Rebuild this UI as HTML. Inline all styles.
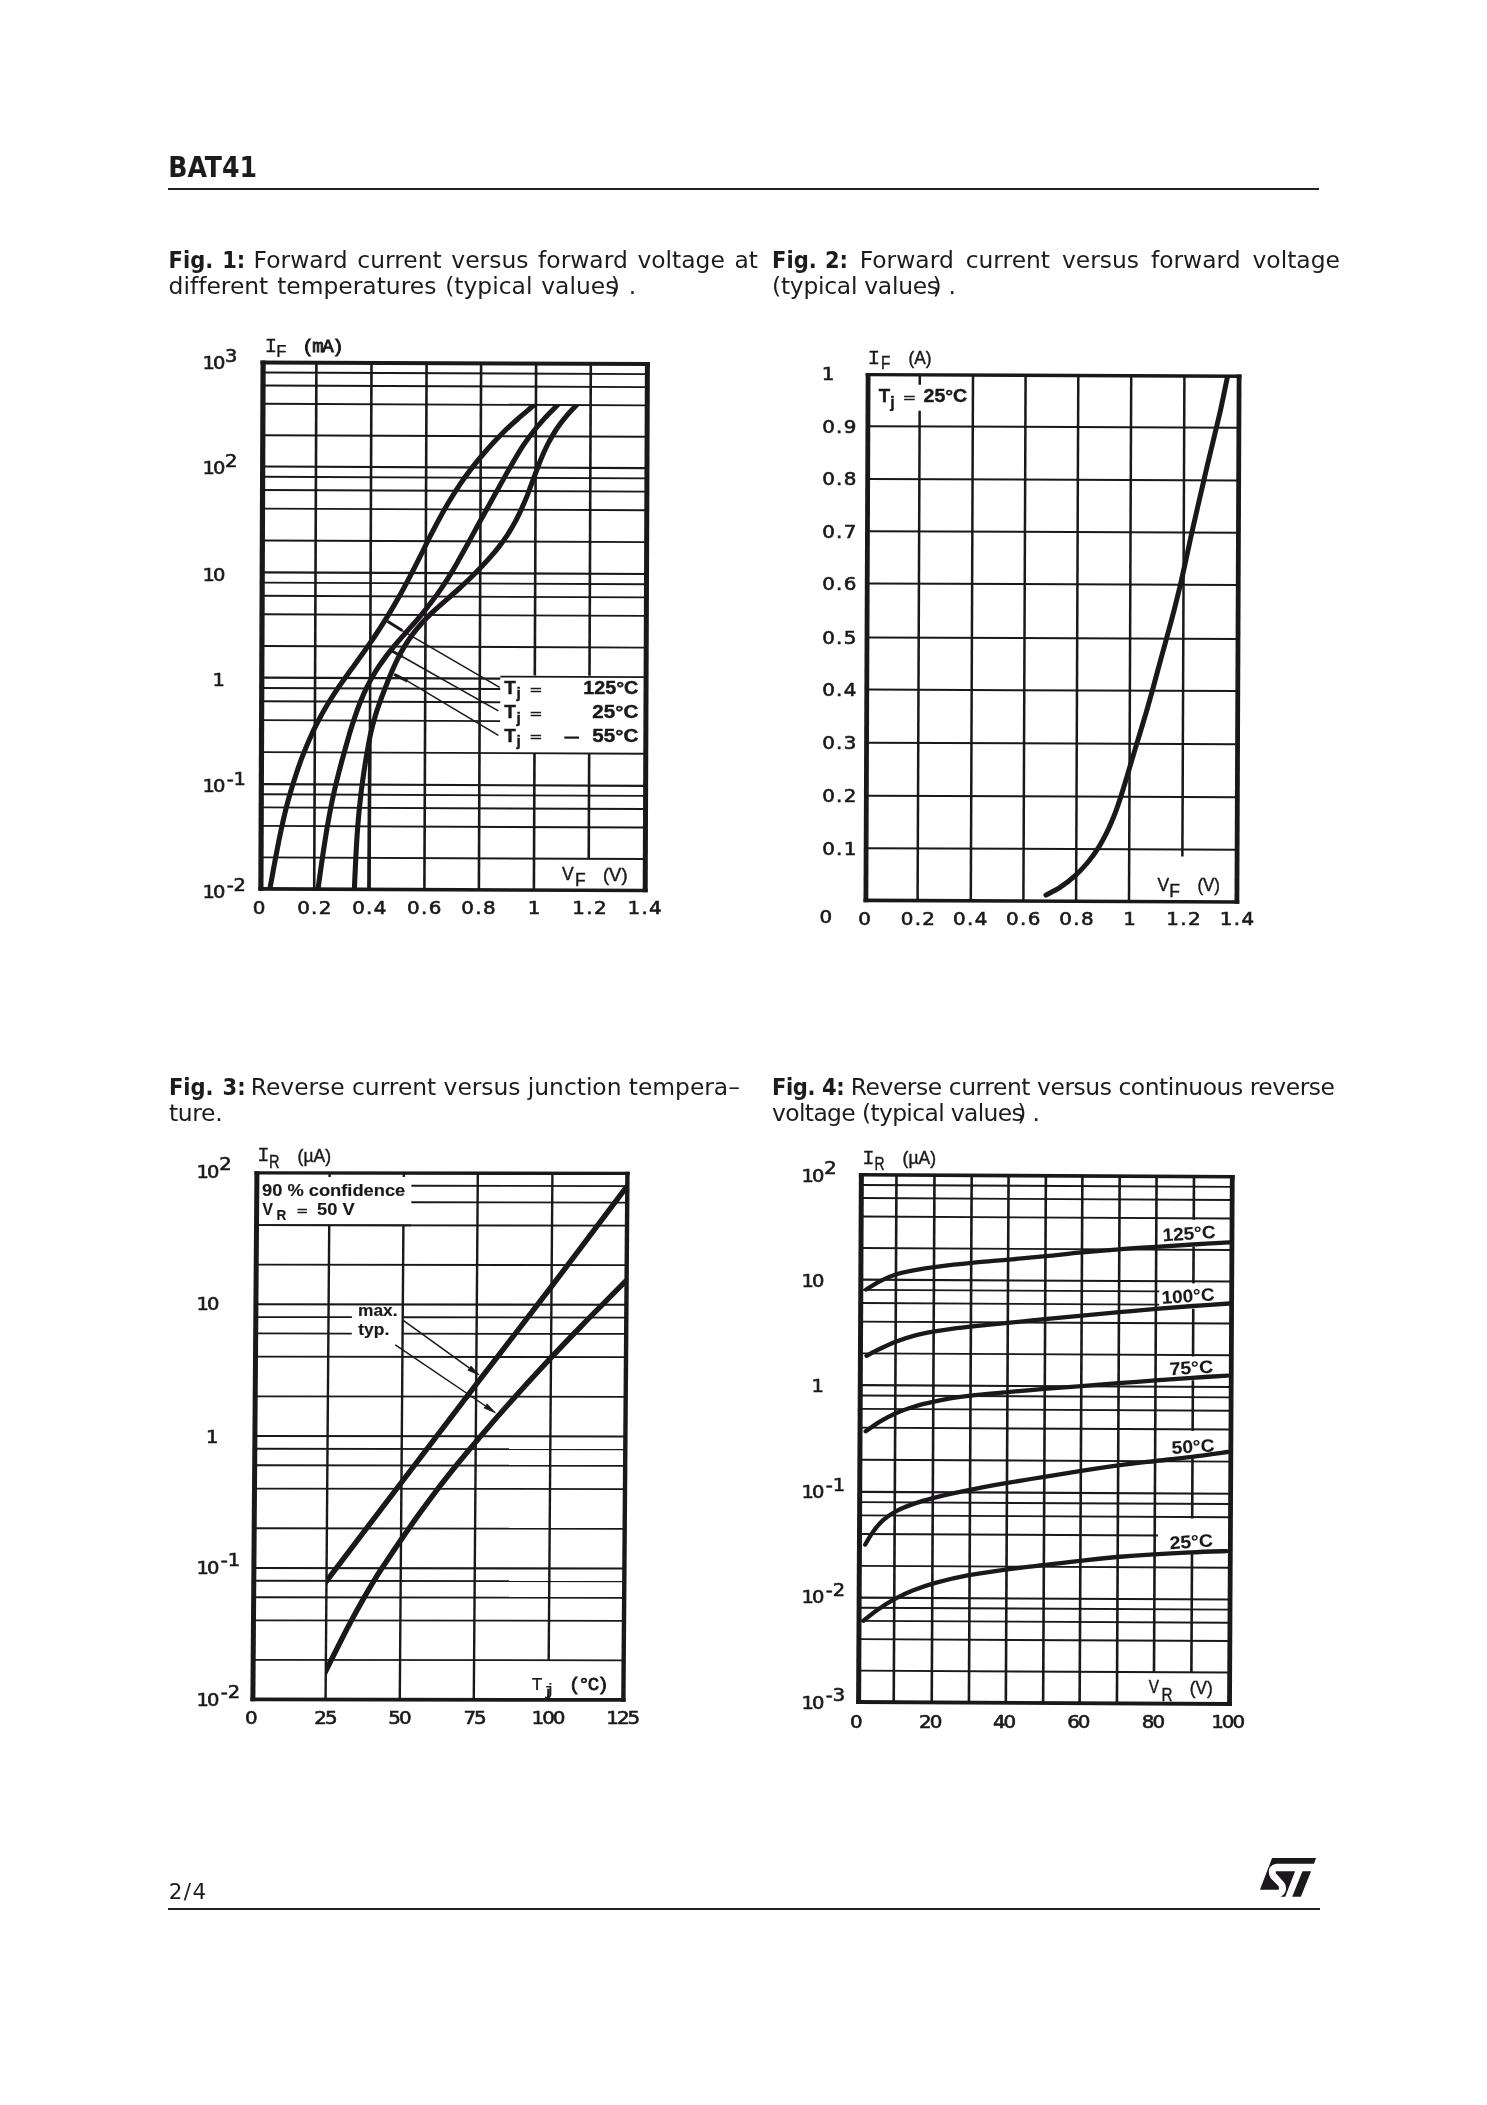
<!DOCTYPE html>
<html lang="en"><head><meta charset="utf-8"><title>BAT41</title>
<style>
html,body{margin:0;padding:0;background:#fff}
#page{will-change:transform;position:relative;width:1487px;height:2105px;overflow:hidden;background:#fff;color:#1a181a}
.t{position:absolute;white-space:nowrap;font-family:"DejaVu Sans","Liberation Sans",sans-serif;font-size:23.4px;line-height:28px;color:#1d1b1e;font-variant-ligatures:none}
.t b{font-weight:bold;font-family:"DejaVu Sans Condensed","DejaVu Sans","Liberation Sans",sans-serif}
.rule{position:absolute;background:#232123;height:2px}
svg{position:absolute;left:0;top:0}
svg text{fill:#1a181a;stroke:none}
</style></head><body>
<div id="page">
<div class="t" style="left:168.2px;top:152.4px;font-family:'DejaVu Sans Condensed','DejaVu Sans','Liberation Sans',sans-serif;font-weight:bold;font-size:28px;line-height:32px;letter-spacing:0px">BAT41</div>
<div class="rule" style="left:168px;top:188px;width:1151px"></div>
<div class="t" style="left:168.6px;top:245.6px;word-spacing:1.67px;letter-spacing:0.00px"><b>Fig. 1:</b></div>
<div class="t" style="left:253.6px;top:245.6px;word-spacing:2.23px;letter-spacing:0.00px">Forward current versus forward voltage at</div>
<div class="t" style="left:168.6px;top:272.1px;word-spacing:1.43px;letter-spacing:0.00px">different temperatures (typical value<span style="letter-spacing:-6.5px">s</span>) .</div>
<div class="t" style="left:772.1px;top:245.6px;word-spacing:0.87px;letter-spacing:0.00px"><b>Fig. 2:</b></div>
<div class="t" style="left:859.7px;top:245.6px;word-spacing:4.47px;letter-spacing:0.00px">Forward current versus forward voltage</div>
<div class="t" style="left:772.1px;top:272.1px;word-spacing:0.00px;letter-spacing:-0.27px">(typical value<span style="letter-spacing:-6.5px">s</span>) .</div>
<div class="t" style="left:168.9px;top:1072.6px;word-spacing:1.67px;letter-spacing:0.00px"><b>Fig. 3:</b></div>
<div class="t" style="left:250.8px;top:1072.6px;word-spacing:0.00px;letter-spacing:-0.03px">Reverse current versus junction tempera&#8211;</div>
<div class="t" style="left:168.9px;top:1099.1px;word-spacing:0.00px;letter-spacing:-0.31px">ture.</div>
<div class="t" style="left:772.1px;top:1072.6px;word-spacing:0.00px;letter-spacing:-0.41px"><b>Fig. 4:</b></div>
<div class="t" style="left:850.8px;top:1072.6px;word-spacing:0.00px;letter-spacing:-0.44px">Reverse current versus continuous reverse</div>
<div class="t" style="left:772.1px;top:1099.1px;word-spacing:0.00px;letter-spacing:-0.63px">voltage (typical value<span style="letter-spacing:-6.5px">s</span>) .</div>
<div class="t" style="left:168.7px;top:1878.2px;font-size:21.5px;letter-spacing:1.5px">2/4</div>
<div class="rule" style="left:168px;top:1907.7px;width:1152px"></div>

<svg width="1487" height="2105" viewBox="0 0 1487 2105" stroke="#1a181a" fill="none">
<g transform="translate(1250,1850) scale(0.053792)" fill="#1b191c" stroke="none"><path d="M410,150 L1228,150 L1190,255 L500,255 C400,262 352,330 350,400 C350,455 368,505 390,530 L520,660 C545,690 548,725 525,740 L185,740 Z"/><path d="M480,395 L838,395 L655,868 L565,868 C620,850 665,790 670,720 C670,670 655,630 635,605 L480,432 Z"/><path d="M975,395 L1135,395 L945,868 L785,868 Z"/></g><g transform="rotate(0.24 454.1 626.5)"><line x1="262.0" y1="467.3" x2="646.3" y2="467.3" stroke-width="2.2" /><line x1="262.0" y1="573.2" x2="646.3" y2="573.2" stroke-width="2.2" /><line x1="262.0" y1="678.5" x2="500.5" y2="678.5" stroke-width="2.2" /><line x1="262.0" y1="785.0" x2="646.3" y2="785.0" stroke-width="2.2" /><line x1="262.0" y1="436.0" x2="646.3" y2="436.0" stroke-width="1.9" /><line x1="262.0" y1="404.6" x2="646.3" y2="404.6" stroke-width="1.9" /><line x1="262.0" y1="386.3" x2="646.3" y2="386.3" stroke-width="1.9" /><line x1="262.0" y1="373.3" x2="646.3" y2="373.3" stroke-width="1.9" /><line x1="262.0" y1="541.3" x2="646.3" y2="541.3" stroke-width="1.9" /><line x1="262.0" y1="509.4" x2="646.3" y2="509.4" stroke-width="1.9" /><line x1="262.0" y1="490.8" x2="646.3" y2="490.8" stroke-width="1.9" /><line x1="262.0" y1="477.6" x2="646.3" y2="477.6" stroke-width="1.9" /><line x1="262.0" y1="646.8" x2="646.3" y2="646.8" stroke-width="1.9" /><line x1="262.0" y1="615.1" x2="646.3" y2="615.1" stroke-width="1.9" /><line x1="262.0" y1="596.6" x2="646.3" y2="596.6" stroke-width="1.9" /><line x1="262.0" y1="583.4" x2="646.3" y2="583.4" stroke-width="1.9" /><line x1="262.0" y1="752.9" x2="646.3" y2="752.9" stroke-width="1.9" /><line x1="262.0" y1="720.9" x2="500.5" y2="720.9" stroke-width="1.9" /><line x1="262.0" y1="702.1" x2="500.5" y2="702.1" stroke-width="1.9" /><line x1="262.0" y1="688.8" x2="500.5" y2="688.8" stroke-width="1.9" /><line x1="262.0" y1="858.2" x2="646.3" y2="858.2" stroke-width="1.9" /><line x1="262.0" y1="826.7" x2="646.3" y2="826.7" stroke-width="1.9" /><line x1="262.0" y1="808.2" x2="646.3" y2="808.2" stroke-width="1.9" /><line x1="262.0" y1="795.1" x2="646.3" y2="795.1" stroke-width="1.9" /><line x1="315.3" y1="363.2" x2="315.3" y2="889.7" stroke-width="2.6" /><line x1="370.4" y1="363.2" x2="370.4" y2="889.7" stroke-width="2.6" /><line x1="425.5" y1="363.2" x2="425.5" y2="889.7" stroke-width="2.6" /><line x1="480.0" y1="363.2" x2="480.0" y2="889.7" stroke-width="2.6" /><line x1="535.0" y1="363.2" x2="535.0" y2="675.2" stroke-width="2.6" /><line x1="535.0" y1="752.9" x2="535.0" y2="889.7" stroke-width="2.6" /><line x1="589.7" y1="363.2" x2="589.7" y2="675.2" stroke-width="2.6" /><line x1="589.7" y1="752.9" x2="589.7" y2="858.2" stroke-width="2.6" /><line x1="262.0" y1="361.2" x2="262.0" y2="891.5" stroke-width="5.2" /><line x1="646.3" y1="361.2" x2="646.3" y2="891.5" stroke-width="5.0" /><line x1="259.4" y1="363.2" x2="648.8" y2="363.2" stroke-width="4.0" /><line x1="259.4" y1="889.7" x2="648.8" y2="889.7" stroke-width="3.6" /><line x1="500.5" y1="676.4" x2="646.3" y2="676.4" stroke-width="1.8" /></g><clipPath id="cl1"><rect x="262" y="404.4" width="385" height="485.6"/></clipPath><g clip-path="url(#cl1)"><path d="M269.8,889.0 C270.2,887.0 271.1,882.4 272.1,876.9 C273.1,871.5 274.4,863.9 275.9,856.3 C277.3,848.8 279.1,839.2 280.8,831.5 C282.4,823.8 284.1,816.5 285.7,809.9 C287.3,803.4 288.9,798.0 290.5,792.2 C292.2,786.4 293.9,780.9 295.8,775.2 C297.7,769.4 299.7,763.5 301.9,757.7 C304.2,751.9 306.5,746.0 309.1,740.2 C311.6,734.4 314.2,728.7 317.2,723.0 C320.1,717.2 323.2,711.5 326.7,705.7 C330.2,699.9 334.1,693.9 338.1,687.9 C342.2,681.9 346.8,675.6 351.1,669.6 C355.4,663.6 359.8,657.6 363.8,652.0 C367.8,646.4 371.5,641.1 375.1,635.8 C378.6,630.5 381.9,625.4 385.1,620.2 C388.4,615.0 391.4,609.9 394.5,604.6 C397.6,599.3 400.6,594.0 403.6,588.5 C406.6,583.0 409.6,577.4 412.5,571.7 C415.4,566.1 418.2,560.3 421.2,554.4 C424.1,548.5 427.0,542.4 430.1,536.3 C433.2,530.3 436.5,523.9 439.8,517.9 C443.1,511.9 446.5,505.8 449.9,500.2 C453.3,494.6 456.6,489.4 460.0,484.3 C463.4,479.2 466.8,474.6 470.4,469.9 C474.0,465.2 477.7,460.6 481.6,456.0 C485.4,451.5 489.4,446.9 493.5,442.5 C497.6,438.1 501.9,433.7 506.1,429.5 C510.4,425.4 515.1,421.3 519.2,417.7 C523.3,414.0 527.4,410.7 530.9,407.7 C534.4,404.7 538.7,401.0 540.3,399.7" fill="none" stroke-width="5.1" stroke-linecap="round" stroke-linejoin="round" stroke-linecap="butt"/><path d="M318.0,889.0 C318.3,887.0 318.9,882.4 319.7,876.9 C320.4,871.5 321.5,863.9 322.6,856.3 C323.8,848.8 325.2,839.2 326.5,831.3 C327.8,823.5 329.2,816.0 330.5,809.1 C331.8,802.3 333.1,796.4 334.5,790.2 C335.9,784.1 337.4,778.2 338.9,772.1 C340.5,766.0 342.2,759.7 343.9,753.6 C345.6,747.4 347.4,741.0 349.1,735.1 C350.9,729.2 352.6,723.6 354.5,718.2 C356.3,712.8 358.0,707.9 360.0,702.8 C362.1,697.6 364.2,692.6 366.8,687.4 C369.4,682.2 372.5,676.6 375.7,671.3 C378.9,666.1 382.6,660.9 386.2,656.1 C389.8,651.3 393.5,646.9 397.3,642.4 C401.1,637.9 405.1,633.6 408.9,629.2 C412.8,624.8 416.7,620.3 420.5,615.8 C424.2,611.4 427.8,606.9 431.2,602.3 C434.7,597.8 438.0,593.3 441.2,588.6 C444.4,583.9 447.4,579.2 450.4,574.3 C453.4,569.4 456.3,564.3 459.3,559.1 C462.2,553.9 465.1,548.5 468.1,543.2 C471.0,537.9 474.0,532.3 476.9,527.1 C479.7,521.9 482.6,516.8 485.2,512.0 C487.9,507.3 490.3,502.9 492.7,498.5 C495.1,494.2 497.4,490.2 499.7,485.9 C502.1,481.7 504.4,477.5 506.8,473.1 C509.3,468.7 511.9,464.1 514.6,459.6 C517.3,455.0 520.1,450.3 523.1,445.7 C526.2,441.1 529.5,436.4 533.0,432.0 C536.4,427.6 540.3,423.1 543.9,419.1 C547.5,415.1 551.3,411.3 554.6,408.0 C557.9,404.6 562.2,400.5 563.7,398.9" fill="none" stroke-width="5.1" stroke-linecap="round" stroke-linejoin="round" stroke-linecap="butt"/><path d="M354.4,889.0 C354.5,887.0 354.7,882.4 354.9,876.9 C355.2,871.5 355.5,863.9 355.9,856.3 C356.3,848.8 356.8,839.2 357.4,831.3 C358.0,823.5 358.6,816.0 359.3,809.1 C360.0,802.3 360.7,796.4 361.4,790.2 C362.2,784.1 363.0,778.2 363.9,772.1 C364.8,766.0 365.8,759.7 366.9,753.6 C367.9,747.4 369.1,741.0 370.3,735.1 C371.6,729.2 373.0,723.5 374.6,718.2 C376.1,712.8 377.8,707.9 379.6,702.9 C381.3,697.8 383.3,693.0 385.2,688.0 C387.1,683.1 389.1,677.9 391.1,673.2 C393.2,668.4 395.2,663.7 397.4,659.3 C399.5,654.9 401.7,650.9 404.2,646.8 C406.7,642.7 409.4,638.7 412.3,634.8 C415.3,630.8 418.4,626.9 421.9,623.0 C425.4,619.1 429.3,615.3 433.4,611.4 C437.5,607.5 442.2,603.5 446.7,599.6 C451.2,595.6 456.0,591.4 460.3,587.5 C464.5,583.6 468.6,579.8 472.2,576.2 C475.8,572.7 478.8,569.6 481.9,566.3 C484.9,563.1 487.7,560.2 490.5,556.9 C493.4,553.6 496.3,550.2 499.1,546.6 C502.0,542.9 504.8,538.9 507.5,534.9 C510.1,530.8 512.7,526.4 515.0,522.1 C517.4,517.8 519.5,513.3 521.5,508.9 C523.5,504.5 525.4,500.0 527.2,495.6 C528.9,491.1 530.6,486.7 532.2,482.2 C533.9,477.8 535.5,473.3 537.2,468.9 C538.9,464.5 540.6,460.0 542.5,455.6 C544.4,451.2 546.4,446.7 548.7,442.4 C551.0,438.0 553.5,433.7 556.2,429.5 C559.0,425.4 562.1,421.3 565.1,417.7 C568.0,414.0 571.2,410.7 574.0,407.7 C576.8,404.7 580.5,401.0 581.9,399.7" fill="none" stroke-width="5.1" stroke-linecap="round" stroke-linejoin="round" stroke-linecap="butt"/></g><line x1="369.9" y1="735.0" x2="368.9" y2="889.0" stroke-width="3.6" /><line x1="387.4" y1="621.2" x2="402.2" y2="630.6" stroke-width="3.0" /><line x1="402.2" y1="630.6" x2="499.6" y2="687.4" stroke-width="1.5" /><line x1="391.5" y1="650.8" x2="403.0" y2="657.0" stroke-width="3.0" /><line x1="403.0" y1="657.0" x2="498.4" y2="710.8" stroke-width="1.5" /><line x1="394.1" y1="674.3" x2="407.6" y2="681.2" stroke-width="3.0" /><line x1="407.6" y1="681.2" x2="498.4" y2="735.4" stroke-width="1.5" /><text x="504.2" y="694.2" font-family="'Liberation Sans', sans-serif" font-size="17.8" font-weight="bold" text-anchor="start" textLength="11.6" lengthAdjust="spacingAndGlyphs" style="stroke:#1a181a;stroke-width:0.4px">T</text><text x="516.6" y="698.4" font-family="'Liberation Sans', sans-serif" font-size="15.5" font-weight="bold" text-anchor="start" style="stroke:#1a181a;stroke-width:0.4px">j</text><text x="530.0" y="693.9" font-family="'Liberation Sans', sans-serif" font-size="12.5" font-weight="normal" text-anchor="start" textLength="11.8" lengthAdjust="spacingAndGlyphs" style="stroke:#1a181a;stroke-width:0.45px">=</text><text x="583.3" y="694.2" font-family="'Liberation Sans', sans-serif" font-size="17.8" font-weight="bold" text-anchor="start" textLength="55" lengthAdjust="spacingAndGlyphs" style="stroke:#1a181a;stroke-width:0.4px">125°C</text><text x="504.2" y="718.4" font-family="'Liberation Sans', sans-serif" font-size="17.8" font-weight="bold" text-anchor="start" textLength="11.6" lengthAdjust="spacingAndGlyphs" style="stroke:#1a181a;stroke-width:0.4px">T</text><text x="516.6" y="722.6" font-family="'Liberation Sans', sans-serif" font-size="15.5" font-weight="bold" text-anchor="start" style="stroke:#1a181a;stroke-width:0.4px">j</text><text x="530.0" y="718.1" font-family="'Liberation Sans', sans-serif" font-size="12.5" font-weight="normal" text-anchor="start" textLength="11.8" lengthAdjust="spacingAndGlyphs" style="stroke:#1a181a;stroke-width:0.45px">=</text><text x="592.3" y="718.4" font-family="'Liberation Sans', sans-serif" font-size="17.8" font-weight="bold" text-anchor="start" textLength="46" lengthAdjust="spacingAndGlyphs" style="stroke:#1a181a;stroke-width:0.4px">25°C</text><text x="504.2" y="741.6" font-family="'Liberation Sans', sans-serif" font-size="17.8" font-weight="bold" text-anchor="start" textLength="11.6" lengthAdjust="spacingAndGlyphs" style="stroke:#1a181a;stroke-width:0.4px">T</text><text x="516.6" y="745.8" font-family="'Liberation Sans', sans-serif" font-size="15.5" font-weight="bold" text-anchor="start" style="stroke:#1a181a;stroke-width:0.4px">j</text><text x="530.0" y="741.3" font-family="'Liberation Sans', sans-serif" font-size="12.5" font-weight="normal" text-anchor="start" textLength="11.8" lengthAdjust="spacingAndGlyphs" style="stroke:#1a181a;stroke-width:0.45px">=</text><text x="592.3" y="741.6" font-family="'Liberation Sans', sans-serif" font-size="17.8" font-weight="bold" text-anchor="start" textLength="46" lengthAdjust="spacingAndGlyphs" style="stroke:#1a181a;stroke-width:0.4px">55°C</text><line x1="564.3" y1="737.6" x2="579.0" y2="737.6" stroke-width="2.2" /><text transform="scale(1.12,1)" x="186.25 195.71" y="369.5" font-family="'DejaVu Sans', 'Liberation Sans', sans-serif" font-size="17.39" font-weight="normal" text-anchor="middle" style="stroke:#1a181a;stroke-width:0.6px">10</text><text transform="scale(1.12,1)" x="206.52" y="362.2" font-family="'DejaVu Sans', 'Liberation Sans', sans-serif" font-size="17.39" font-weight="normal" text-anchor="middle" style="stroke:#1a181a;stroke-width:0.6px">3</text><text transform="scale(1.12,1)" x="186.25 195.71" y="473.9" font-family="'DejaVu Sans', 'Liberation Sans', sans-serif" font-size="17.39" font-weight="normal" text-anchor="middle" style="stroke:#1a181a;stroke-width:0.6px">10</text><text transform="scale(1.12,1)" x="206.52" y="466.6" font-family="'DejaVu Sans', 'Liberation Sans', sans-serif" font-size="17.39" font-weight="normal" text-anchor="middle" style="stroke:#1a181a;stroke-width:0.6px">2</text><text transform="scale(1.12,1)" x="186.25 195.71" y="580.6" font-family="'DejaVu Sans', 'Liberation Sans', sans-serif" font-size="17.39" font-weight="normal" text-anchor="middle" style="stroke:#1a181a;stroke-width:0.6px">10</text><text transform="scale(1.12,1)" x="195.27" y="685.9" font-family="'DejaVu Sans', 'Liberation Sans', sans-serif" font-size="17.39" font-weight="normal" text-anchor="middle" style="stroke:#1a181a;stroke-width:0.6px">1</text><text transform="scale(1.12,1)" x="186.25 195.71" y="791.9" font-family="'DejaVu Sans', 'Liberation Sans', sans-serif" font-size="17.39" font-weight="normal" text-anchor="middle" style="stroke:#1a181a;stroke-width:0.6px">10</text><text transform="scale(1.12,1)" x="205.57 214.09" y="784.6" font-family="'DejaVu Sans', 'Liberation Sans', sans-serif" font-size="17.39" font-weight="normal" text-anchor="middle" style="stroke:#1a181a;stroke-width:0.6px">-1</text><text transform="scale(1.12,1)" x="186.25 195.71" y="897.9" font-family="'DejaVu Sans', 'Liberation Sans', sans-serif" font-size="17.39" font-weight="normal" text-anchor="middle" style="stroke:#1a181a;stroke-width:0.6px">10</text><text transform="scale(1.12,1)" x="205.57 214.09" y="890.6" font-family="'DejaVu Sans', 'Liberation Sans', sans-serif" font-size="17.39" font-weight="normal" text-anchor="middle" style="stroke:#1a181a;stroke-width:0.6px">-2</text><text transform="scale(1.12,1)" x="231.25" y="914.0" font-family="'DejaVu Sans', 'Liberation Sans', sans-serif" font-size="17.75" font-weight="normal" text-anchor="middle" style="stroke:#1a181a;stroke-width:0.6px">0</text><text transform="scale(1.12,1)" x="270.96 280.62 290.29" y="914.0" font-family="'DejaVu Sans', 'Liberation Sans', sans-serif" font-size="17.75" font-weight="normal" text-anchor="middle" style="stroke:#1a181a;stroke-width:0.6px">0.2</text><text transform="scale(1.12,1)" x="320.06 329.73 339.40" y="914.0" font-family="'DejaVu Sans', 'Liberation Sans', sans-serif" font-size="17.75" font-weight="normal" text-anchor="middle" style="stroke:#1a181a;stroke-width:0.6px">0.4</text><text transform="scale(1.12,1)" x="369.08 378.75 388.42" y="914.0" font-family="'DejaVu Sans', 'Liberation Sans', sans-serif" font-size="17.75" font-weight="normal" text-anchor="middle" style="stroke:#1a181a;stroke-width:0.6px">0.6</text><text transform="scale(1.12,1)" x="417.56 427.23 436.90" y="914.0" font-family="'DejaVu Sans', 'Liberation Sans', sans-serif" font-size="17.75" font-weight="normal" text-anchor="middle" style="stroke:#1a181a;stroke-width:0.6px">0.8</text><text transform="scale(1.12,1)" x="476.79" y="914.0" font-family="'DejaVu Sans', 'Liberation Sans', sans-serif" font-size="17.75" font-weight="normal" text-anchor="middle" style="stroke:#1a181a;stroke-width:0.6px">1</text><text transform="scale(1.12,1)" x="516.67 526.34 536.01" y="914.0" font-family="'DejaVu Sans', 'Liberation Sans', sans-serif" font-size="17.75" font-weight="normal" text-anchor="middle" style="stroke:#1a181a;stroke-width:0.6px">1.2</text><text transform="scale(1.12,1)" x="565.87 575.54 585.20" y="914.0" font-family="'DejaVu Sans', 'Liberation Sans', sans-serif" font-size="17.75" font-weight="normal" text-anchor="middle" style="stroke:#1a181a;stroke-width:0.6px">1.4</text><text transform="scale(1.06,1)" x="255.61" y="352.4" font-family="'Liberation Mono', monospace" font-size="19.40" font-weight="normal" text-anchor="middle" style="stroke:#1a181a;stroke-width:0.25px">I</text><text transform="scale(1.06,1)" x="265.52" y="357.2" font-family="'Liberation Mono', monospace" font-size="18.00" font-weight="normal" text-anchor="middle" style="stroke:#1a181a;stroke-width:0.2px">F</text><text transform="scale(1.06,1)" x="290.57 300.00 309.43 318.87" y="352.4" font-family="'Liberation Mono', monospace" font-size="18.00" font-weight="normal" text-anchor="middle" style="stroke:#1a181a;stroke-width:0.9px">(mA)</text><text x="562.0" y="880.0" font-family="'Liberation Sans', sans-serif" font-size="17.5" font-weight="normal" text-anchor="start" style="stroke:#1a181a;stroke-width:0.4px">V</text><text x="575.0" y="886.0" font-family="'Liberation Sans', sans-serif" font-size="17.5" font-weight="normal" text-anchor="start" style="stroke:#1a181a;stroke-width:0.4px">F</text><text x="603.0" y="880.5" font-family="'Liberation Sans', sans-serif" font-size="17.5" font-weight="normal" text-anchor="start" textLength="24.5" lengthAdjust="spacingAndGlyphs" style="stroke:#1a181a;stroke-width:0.4px">(V)</text><g transform="rotate(0.24 1052.5 638.3)"><line x1="867.0" y1="427.0" x2="1238.0" y2="427.0" stroke-width="2.0" /><line x1="867.0" y1="479.7" x2="1238.0" y2="479.7" stroke-width="2.0" /><line x1="867.0" y1="532.0" x2="1238.0" y2="532.0" stroke-width="2.0" /><line x1="867.0" y1="584.2" x2="1238.0" y2="584.2" stroke-width="2.0" /><line x1="867.0" y1="638.2" x2="1238.0" y2="638.2" stroke-width="2.0" /><line x1="867.0" y1="690.3" x2="1238.0" y2="690.3" stroke-width="2.0" /><line x1="867.0" y1="743.5" x2="1238.0" y2="743.5" stroke-width="2.0" /><line x1="867.0" y1="796.5" x2="1238.0" y2="796.5" stroke-width="2.0" /><line x1="867.0" y1="849.0" x2="1238.0" y2="849.0" stroke-width="2.0" /><line x1="918.7" y1="375.4" x2="918.7" y2="385.4" stroke-width="2.5" /><line x1="918.7" y1="411.4" x2="918.7" y2="901.2" stroke-width="2.5" /><line x1="971.9" y1="375.4" x2="971.9" y2="901.2" stroke-width="2.5" /><line x1="1024.5" y1="375.4" x2="1024.5" y2="901.2" stroke-width="2.5" /><line x1="1077.2" y1="375.4" x2="1077.2" y2="901.2" stroke-width="2.5" /><line x1="1130.1" y1="375.4" x2="1130.1" y2="901.2" stroke-width="2.5" /><line x1="1183.3" y1="375.4" x2="1183.3" y2="856.0" stroke-width="2.5" /><line x1="867.0" y1="373.7" x2="867.0" y2="903.0" stroke-width="4.8" /><line x1="1238.0" y1="373.7" x2="1238.0" y2="903.0" stroke-width="4.8" /><line x1="864.6" y1="375.4" x2="1240.4" y2="375.4" stroke-width="3.4" /><line x1="864.6" y1="901.2" x2="1240.4" y2="901.2" stroke-width="3.6" /></g><clipPath id="cl2"><rect x="867" y="375" width="372" height="527"/></clipPath><g clip-path="url(#cl2)"><path d="M1045.9,895.1 C1048.2,893.8 1055.3,890.5 1060.0,887.4 C1064.7,884.3 1069.6,880.7 1074.1,876.7 C1078.7,872.6 1083.2,867.8 1087.3,863.0 C1091.3,858.2 1095.0,853.0 1098.3,847.8 C1101.7,842.5 1104.6,836.9 1107.3,831.4 C1110.0,825.9 1112.3,820.2 1114.5,814.8 C1116.6,809.3 1118.4,804.0 1120.2,798.6 C1121.9,793.2 1123.5,788.0 1125.2,782.5 C1126.8,777.1 1128.5,771.4 1130.2,765.6 C1132.0,759.9 1133.7,753.9 1135.5,747.9 C1137.3,742.0 1139.2,736.0 1141.0,729.8 C1142.9,723.6 1144.8,717.2 1146.7,710.8 C1148.5,704.4 1150.3,697.7 1152.2,691.2 C1154.0,684.6 1155.7,678.0 1157.5,671.5 C1159.3,664.9 1161.1,658.4 1162.9,651.7 C1164.8,644.9 1166.6,638.3 1168.5,631.2 C1170.5,624.0 1172.5,616.6 1174.5,608.7 C1176.5,600.8 1178.6,592.3 1180.6,583.8 C1182.6,575.3 1184.5,566.3 1186.4,557.7 C1188.3,549.0 1190.1,540.4 1192.0,531.8 C1193.9,523.3 1195.9,514.8 1197.8,506.5 C1199.7,498.2 1201.6,489.9 1203.5,481.9 C1205.3,473.9 1207.1,466.2 1209.0,458.3 C1210.9,450.4 1212.8,442.8 1214.7,434.7 C1216.6,426.6 1218.8,417.8 1220.6,409.7 C1222.4,401.6 1224.1,393.3 1225.5,386.3 C1227.0,379.4 1228.6,371.1 1229.2,368.0" fill="none" stroke-width="5.0" stroke-linecap="round" stroke-linejoin="round" stroke-linecap="butt"/></g><text transform="scale(1.12,1)" x="739.29" y="380.4" font-family="'DejaVu Sans', 'Liberation Sans', sans-serif" font-size="17.75" font-weight="normal" text-anchor="middle" style="stroke:#1a181a;stroke-width:0.6px">1</text><text transform="scale(1.12,1)" x="739.71 749.37 759.04" y="432.8" font-family="'DejaVu Sans', 'Liberation Sans', sans-serif" font-size="17.75" font-weight="normal" text-anchor="middle" style="stroke:#1a181a;stroke-width:0.6px">0.9</text><text transform="scale(1.12,1)" x="739.71 749.37 759.04" y="485.5" font-family="'DejaVu Sans', 'Liberation Sans', sans-serif" font-size="17.75" font-weight="normal" text-anchor="middle" style="stroke:#1a181a;stroke-width:0.6px">0.8</text><text transform="scale(1.12,1)" x="739.71 749.37 759.04" y="537.8" font-family="'DejaVu Sans', 'Liberation Sans', sans-serif" font-size="17.75" font-weight="normal" text-anchor="middle" style="stroke:#1a181a;stroke-width:0.6px">0.7</text><text transform="scale(1.12,1)" x="739.71 749.37 759.04" y="590.0" font-family="'DejaVu Sans', 'Liberation Sans', sans-serif" font-size="17.75" font-weight="normal" text-anchor="middle" style="stroke:#1a181a;stroke-width:0.6px">0.6</text><text transform="scale(1.12,1)" x="739.71 749.37 759.04" y="644.0" font-family="'DejaVu Sans', 'Liberation Sans', sans-serif" font-size="17.75" font-weight="normal" text-anchor="middle" style="stroke:#1a181a;stroke-width:0.6px">0.5</text><text transform="scale(1.12,1)" x="739.71 749.37 759.04" y="696.1" font-family="'DejaVu Sans', 'Liberation Sans', sans-serif" font-size="17.75" font-weight="normal" text-anchor="middle" style="stroke:#1a181a;stroke-width:0.6px">0.4</text><text transform="scale(1.12,1)" x="739.71 749.37 759.04" y="749.3" font-family="'DejaVu Sans', 'Liberation Sans', sans-serif" font-size="17.75" font-weight="normal" text-anchor="middle" style="stroke:#1a181a;stroke-width:0.6px">0.3</text><text transform="scale(1.12,1)" x="739.71 749.37 759.04" y="802.3" font-family="'DejaVu Sans', 'Liberation Sans', sans-serif" font-size="17.75" font-weight="normal" text-anchor="middle" style="stroke:#1a181a;stroke-width:0.6px">0.2</text><text transform="scale(1.12,1)" x="739.71 749.37 759.04" y="854.8" font-family="'DejaVu Sans', 'Liberation Sans', sans-serif" font-size="17.75" font-weight="normal" text-anchor="middle" style="stroke:#1a181a;stroke-width:0.6px">0.1</text><text transform="scale(1.12,1)" x="737.32" y="923.5" font-family="'DejaVu Sans', 'Liberation Sans', sans-serif" font-size="17.75" font-weight="normal" text-anchor="middle" style="stroke:#1a181a;stroke-width:0.6px">0</text><text transform="scale(1.12,1)" x="771.87" y="925.0" font-family="'DejaVu Sans', 'Liberation Sans', sans-serif" font-size="17.75" font-weight="normal" text-anchor="middle" style="stroke:#1a181a;stroke-width:0.6px">0</text><text transform="scale(1.12,1)" x="809.80 819.46 829.13" y="925.0" font-family="'DejaVu Sans', 'Liberation Sans', sans-serif" font-size="17.75" font-weight="normal" text-anchor="middle" style="stroke:#1a181a;stroke-width:0.6px">0.2</text><text transform="scale(1.12,1)" x="856.58 866.25 875.92" y="925.0" font-family="'DejaVu Sans', 'Liberation Sans', sans-serif" font-size="17.75" font-weight="normal" text-anchor="middle" style="stroke:#1a181a;stroke-width:0.6px">0.4</text><text transform="scale(1.12,1)" x="903.90 913.57 923.24" y="925.0" font-family="'DejaVu Sans', 'Liberation Sans', sans-serif" font-size="17.75" font-weight="normal" text-anchor="middle" style="stroke:#1a181a;stroke-width:0.6px">0.6</text><text transform="scale(1.12,1)" x="951.49 961.16 970.83" y="925.0" font-family="'DejaVu Sans', 'Liberation Sans', sans-serif" font-size="17.75" font-weight="normal" text-anchor="middle" style="stroke:#1a181a;stroke-width:0.6px">0.8</text><text transform="scale(1.12,1)" x="1008.66" y="925.0" font-family="'DejaVu Sans', 'Liberation Sans', sans-serif" font-size="17.75" font-weight="normal" text-anchor="middle" style="stroke:#1a181a;stroke-width:0.6px">1</text><text transform="scale(1.12,1)" x="1046.94 1056.61 1066.28" y="925.0" font-family="'DejaVu Sans', 'Liberation Sans', sans-serif" font-size="17.75" font-weight="normal" text-anchor="middle" style="stroke:#1a181a;stroke-width:0.6px">1.2</text><text transform="scale(1.12,1)" x="1094.80 1104.46 1114.13" y="925.0" font-family="'DejaVu Sans', 'Liberation Sans', sans-serif" font-size="17.75" font-weight="normal" text-anchor="middle" style="stroke:#1a181a;stroke-width:0.6px">1.4</text><text transform="scale(1.06,1)" x="824.48" y="363.7" font-family="'Liberation Mono', monospace" font-size="19.40" font-weight="normal" text-anchor="middle" style="stroke:#1a181a;stroke-width:0.25px">I</text><text x="881.0" y="368.8" font-family="'Liberation Sans', sans-serif" font-size="17.5" font-weight="normal" text-anchor="start" textLength="9.4" lengthAdjust="spacingAndGlyphs" style="stroke:#1a181a;stroke-width:0.4px">F</text><text x="908.5" y="364.0" font-family="'Liberation Sans', sans-serif" font-size="17.5" font-weight="normal" text-anchor="start" textLength="23" lengthAdjust="spacingAndGlyphs" style="stroke:#1a181a;stroke-width:0.4px">(A)</text><text x="878.8" y="402.1" font-family="'Liberation Sans', sans-serif" font-size="17.8" font-weight="bold" text-anchor="start" textLength="11.4" lengthAdjust="spacingAndGlyphs" style="stroke:#1a181a;stroke-width:0.4px">T</text><text x="890.3" y="407.6" font-family="'Liberation Sans', sans-serif" font-size="16" font-weight="bold" text-anchor="start" style="stroke:#1a181a;stroke-width:0.4px">j</text><text x="903.6" y="401.6" font-family="'Liberation Sans', sans-serif" font-size="12.5" font-weight="normal" text-anchor="start" textLength="11.8" lengthAdjust="spacingAndGlyphs" style="stroke:#1a181a;stroke-width:0.45px">=</text><text x="923.5" y="402.1" font-family="'Liberation Sans', sans-serif" font-size="17.6" font-weight="bold" text-anchor="start" textLength="43.7" lengthAdjust="spacingAndGlyphs" style="stroke:#1a181a;stroke-width:0.4px">25°C</text><text x="1157.4" y="890.7" font-family="'Liberation Sans', sans-serif" font-size="17.5" font-weight="normal" text-anchor="start" style="stroke:#1a181a;stroke-width:0.4px">V</text><text x="1169.2" y="896.9" font-family="'Liberation Sans', sans-serif" font-size="17.5" font-weight="normal" text-anchor="start" style="stroke:#1a181a;stroke-width:0.4px">F</text><text x="1197.4" y="891.2" font-family="'Liberation Sans', sans-serif" font-size="17.5" font-weight="normal" text-anchor="start" textLength="22.6" lengthAdjust="spacingAndGlyphs" style="stroke:#1a181a;stroke-width:0.4px">(V)</text><g transform="translate(440.2 1436.4) skewX(-0.36) rotate(0.08) translate(-440.2 -1436.4)"><line x1="254.9" y1="1304.5" x2="625.4" y2="1304.5" stroke-width="2.1" /><line x1="254.9" y1="1436.2" x2="625.4" y2="1436.2" stroke-width="2.1" /><line x1="254.9" y1="1568.3" x2="625.4" y2="1568.3" stroke-width="2.1" /><line x1="254.9" y1="1264.9" x2="625.4" y2="1264.9" stroke-width="1.8" /><line x1="254.9" y1="1225.4" x2="625.4" y2="1225.4" stroke-width="1.8" /><line x1="409.5" y1="1202.3" x2="625.4" y2="1202.3" stroke-width="1.8" /><line x1="409.5" y1="1185.8" x2="625.4" y2="1185.8" stroke-width="1.8" /><line x1="254.9" y1="1396.6" x2="625.4" y2="1396.6" stroke-width="1.8" /><line x1="254.9" y1="1356.9" x2="625.4" y2="1356.9" stroke-width="1.8" /><line x1="254.9" y1="1333.7" x2="351.0" y2="1333.7" stroke-width="1.8" /><line x1="402.5" y1="1333.7" x2="625.4" y2="1333.7" stroke-width="1.8" /><line x1="254.9" y1="1317.3" x2="351.0" y2="1317.3" stroke-width="1.8" /><line x1="402.5" y1="1317.3" x2="625.4" y2="1317.3" stroke-width="1.8" /><line x1="254.9" y1="1528.5" x2="625.4" y2="1528.5" stroke-width="1.8" /><line x1="254.9" y1="1488.8" x2="625.4" y2="1488.8" stroke-width="1.8" /><line x1="254.9" y1="1465.5" x2="625.4" y2="1465.5" stroke-width="1.8" /><line x1="254.9" y1="1449.0" x2="625.4" y2="1449.0" stroke-width="1.8" /><line x1="254.9" y1="1660.1" x2="625.4" y2="1660.1" stroke-width="1.8" /><line x1="254.9" y1="1620.6" x2="625.4" y2="1620.6" stroke-width="1.8" /><line x1="254.9" y1="1597.5" x2="625.4" y2="1597.5" stroke-width="1.8" /><line x1="254.9" y1="1581.0" x2="625.4" y2="1581.0" stroke-width="1.8" /><line x1="327.6" y1="1173.1" x2="327.6" y2="1177.1" stroke-width="2.4" /><line x1="327.6" y1="1225.4" x2="327.6" y2="1699.7" stroke-width="2.4" /><line x1="401.8" y1="1173.1" x2="401.8" y2="1177.1" stroke-width="2.4" /><line x1="401.8" y1="1225.4" x2="401.8" y2="1699.7" stroke-width="2.4" /><line x1="475.8" y1="1173.1" x2="475.8" y2="1699.7" stroke-width="2.4" /><line x1="550.4" y1="1173.1" x2="550.4" y2="1660.1" stroke-width="2.4" /><line x1="550.4" y1="1688.7" x2="550.4" y2="1699.7" stroke-width="2.4" /><line x1="254.9" y1="1171.4" x2="254.9" y2="1701.6" stroke-width="5.0" /><line x1="625.4" y1="1171.4" x2="625.4" y2="1701.6" stroke-width="4.4" /><line x1="252.4" y1="1173.1" x2="627.6" y2="1173.1" stroke-width="3.4" /><line x1="252.4" y1="1699.7" x2="627.6" y2="1699.7" stroke-width="3.8" /><line x1="254.9" y1="1225.4" x2="409.5" y2="1225.4" stroke-width="1.9" /></g><clipPath id="cl3"><polygon points="328.2,1172 629,1172 627,1701 325.4,1701"/></clipPath><g clip-path="url(#cl3)"><path d="M321.6,1587.4 C322.6,1586.1 314.6,1596.7 327.6,1579.6 C340.6,1562.5 374.9,1517.3 399.6,1484.8 C424.3,1452.3 451.1,1417.2 476.0,1384.7 C500.9,1352.2 524.2,1322.4 549.2,1289.5 C574.2,1256.6 613.4,1204.3 626.2,1187.3" fill="none" stroke-width="5.4" stroke-linecap="round" stroke-linejoin="round" stroke-linecap="butt"/><path d="M320.4,1681.7 C321.5,1679.5 324.7,1673.2 327.0,1668.6 C329.2,1664.1 331.5,1659.6 334.0,1654.5 C336.6,1649.4 339.3,1643.9 342.3,1638.0 C345.3,1632.1 348.8,1625.4 352.2,1619.0 C355.7,1612.5 359.6,1605.5 363.1,1599.3 C366.6,1593.1 370.0,1587.2 373.3,1581.8 C376.5,1576.5 379.4,1572.1 382.5,1567.3 C385.6,1562.5 388.4,1558.4 391.9,1553.2 C395.4,1548.1 399.0,1542.7 403.4,1536.4 C407.8,1530.1 412.9,1522.7 418.3,1515.2 C423.7,1507.7 429.6,1499.6 435.9,1491.3 C442.2,1483.0 448.6,1474.9 456.2,1465.5 C463.9,1456.1 472.2,1446.0 481.9,1434.7 C491.6,1423.4 503.1,1410.2 514.4,1397.6 C525.6,1385.0 538.5,1371.0 549.6,1359.1 C560.7,1347.3 571.6,1336.0 580.9,1326.5 C590.1,1316.9 597.8,1309.3 605.2,1301.8 C612.6,1294.3 622.0,1284.7 625.4,1281.3" fill="none" stroke-width="5.4" stroke-linecap="round" stroke-linejoin="round" stroke-linecap="butt"/></g><line x1="402.9" y1="1320.1" x2="469.5" y2="1368.2" stroke-width="1.5" /><polygon points="479.2,1375.0 468.0,1370.3 471.0,1366.1" fill="#1a181a" stroke="#1a181a" stroke-width="0.8"/><line x1="395.3" y1="1344.9" x2="485.6" y2="1406.0" stroke-width="1.5" /><polygon points="495.4,1412.7 484.1,1408.1 487.1,1403.9" fill="#1a181a" stroke="#1a181a" stroke-width="0.8"/><text x="262.0" y="1195.6" font-family="'Liberation Sans', sans-serif" font-size="17.4" font-weight="bold" text-anchor="start" textLength="143.3" lengthAdjust="spacingAndGlyphs" style="stroke:#1a181a;stroke-width:0.15px">90 % confidence</text><text x="262.4" y="1215.2" font-family="'Liberation Sans', sans-serif" font-size="17.4" font-weight="bold" text-anchor="start" textLength="10.5" lengthAdjust="spacingAndGlyphs" style="stroke:#1a181a;stroke-width:0.15px">V</text><text x="276.6" y="1219.8" font-family="'Liberation Sans', sans-serif" font-size="15.5" font-weight="bold" text-anchor="start" textLength="9.8" lengthAdjust="spacingAndGlyphs" style="stroke:#1a181a;stroke-width:0.15px">R</text><text x="296.9" y="1214.8" font-family="'Liberation Sans', sans-serif" font-size="12.5" font-weight="normal" text-anchor="start" textLength="10.5" lengthAdjust="spacingAndGlyphs" style="stroke:#1a181a;stroke-width:0.45px">=</text><text x="317.0" y="1215.2" font-family="'Liberation Sans', sans-serif" font-size="17.4" font-weight="bold" text-anchor="start" textLength="37.6" lengthAdjust="spacingAndGlyphs" style="stroke:#1a181a;stroke-width:0.15px">50 V</text><text x="358.0" y="1316.3" font-family="'Liberation Sans', sans-serif" font-size="16.5" font-weight="bold" text-anchor="start" textLength="39.5" lengthAdjust="spacingAndGlyphs" style="stroke:#1a181a;stroke-width:0.15px">max.</text><text x="358.3" y="1335.2" font-family="'Liberation Sans', sans-serif" font-size="16.5" font-weight="bold" text-anchor="start" textLength="31" lengthAdjust="spacingAndGlyphs" style="stroke:#1a181a;stroke-width:0.15px">typ.</text><text transform="scale(1.12,1)" x="180.98 190.45" y="1177.7" font-family="'DejaVu Sans', 'Liberation Sans', sans-serif" font-size="17.39" font-weight="normal" text-anchor="middle" style="stroke:#1a181a;stroke-width:0.6px">10</text><text transform="scale(1.12,1)" x="201.25" y="1170.4" font-family="'DejaVu Sans', 'Liberation Sans', sans-serif" font-size="17.39" font-weight="normal" text-anchor="middle" style="stroke:#1a181a;stroke-width:0.6px">2</text><text transform="scale(1.12,1)" x="180.98 190.45" y="1309.7" font-family="'DejaVu Sans', 'Liberation Sans', sans-serif" font-size="17.39" font-weight="normal" text-anchor="middle" style="stroke:#1a181a;stroke-width:0.6px">10</text><text transform="scale(1.12,1)" x="189.46" y="1443.0" font-family="'DejaVu Sans', 'Liberation Sans', sans-serif" font-size="17.39" font-weight="normal" text-anchor="middle" style="stroke:#1a181a;stroke-width:0.6px">1</text><text transform="scale(1.12,1)" x="180.98 190.45" y="1573.6" font-family="'DejaVu Sans', 'Liberation Sans', sans-serif" font-size="17.39" font-weight="normal" text-anchor="middle" style="stroke:#1a181a;stroke-width:0.6px">10</text><text transform="scale(1.12,1)" x="200.30 208.82" y="1566.3" font-family="'DejaVu Sans', 'Liberation Sans', sans-serif" font-size="17.39" font-weight="normal" text-anchor="middle" style="stroke:#1a181a;stroke-width:0.6px">-1</text><text transform="scale(1.12,1)" x="180.98 190.45" y="1705.7" font-family="'DejaVu Sans', 'Liberation Sans', sans-serif" font-size="17.39" font-weight="normal" text-anchor="middle" style="stroke:#1a181a;stroke-width:0.6px">10</text><text transform="scale(1.12,1)" x="200.30 208.82" y="1698.4" font-family="'DejaVu Sans', 'Liberation Sans', sans-serif" font-size="17.39" font-weight="normal" text-anchor="middle" style="stroke:#1a181a;stroke-width:0.6px">-2</text><text transform="scale(1.12,1)" x="224.46" y="1724.2" font-family="'DejaVu Sans', 'Liberation Sans', sans-serif" font-size="17.75" font-weight="normal" text-anchor="middle" style="stroke:#1a181a;stroke-width:0.6px">0</text><text transform="scale(1.12,1)" x="286.29 295.85" y="1724.2" font-family="'DejaVu Sans', 'Liberation Sans', sans-serif" font-size="17.75" font-weight="normal" text-anchor="middle" style="stroke:#1a181a;stroke-width:0.6px">25</text><text transform="scale(1.12,1)" x="352.28 361.83" y="1724.2" font-family="'DejaVu Sans', 'Liberation Sans', sans-serif" font-size="17.75" font-weight="normal" text-anchor="middle" style="stroke:#1a181a;stroke-width:0.6px">50</text><text transform="scale(1.12,1)" x="419.42 428.97" y="1724.2" font-family="'DejaVu Sans', 'Liberation Sans', sans-serif" font-size="17.75" font-weight="normal" text-anchor="middle" style="stroke:#1a181a;stroke-width:0.6px">75</text><text transform="scale(1.12,1)" x="480.18 489.73 499.29" y="1724.2" font-family="'DejaVu Sans', 'Liberation Sans', sans-serif" font-size="17.75" font-weight="normal" text-anchor="middle" style="stroke:#1a181a;stroke-width:0.6px">100</text><text transform="scale(1.12,1)" x="546.88 556.43 565.98" y="1724.2" font-family="'DejaVu Sans', 'Liberation Sans', sans-serif" font-size="17.75" font-weight="normal" text-anchor="middle" style="stroke:#1a181a;stroke-width:0.6px">125</text><text transform="scale(1.06,1)" x="248.54" y="1161.3" font-family="'Liberation Mono', monospace" font-size="19.40" font-weight="normal" text-anchor="middle" style="stroke:#1a181a;stroke-width:0.25px">I</text><text x="268.9" y="1167.6" font-family="'Liberation Sans', sans-serif" font-size="17.5" font-weight="normal" text-anchor="start" textLength="10.5" lengthAdjust="spacingAndGlyphs" style="stroke:#1a181a;stroke-width:0.4px">R</text><text x="297.6" y="1161.5" font-family="'Liberation Sans', sans-serif" font-size="17.5" font-weight="normal" text-anchor="start" textLength="33.4" lengthAdjust="spacingAndGlyphs" style="stroke:#1a181a;stroke-width:0.4px">(µA)</text><text transform="scale(1.06,1)" x="506.56" y="1689.8" font-family="'Liberation Mono', monospace" font-size="17.50" font-weight="normal" text-anchor="middle" style="stroke:#1a181a;stroke-width:0.2px">T</text><text transform="scale(1.06,1)" x="518.35" y="1695.0" font-family="'Liberation Mono', monospace" font-size="16.00" font-weight="normal" text-anchor="middle" style="stroke:#1a181a;stroke-width:0.2px">j</text><text transform="scale(1.06,1)" x="542.17 551.04 559.91 568.77" y="1690.5" font-family="'Liberation Mono', monospace" font-size="18.00" font-weight="normal" text-anchor="middle" style="stroke:#1a181a;stroke-width:0.8px">(°C)</text><g transform="rotate(0.3 1045.5 1439.4)"><line x1="860.0" y1="1280.6" x2="1230.9" y2="1280.6" stroke-width="2.1" /><line x1="860.0" y1="1386.1" x2="1230.9" y2="1386.1" stroke-width="2.1" /><line x1="860.0" y1="1492.8" x2="1230.9" y2="1492.8" stroke-width="2.1" /><line x1="860.0" y1="1598.6" x2="1230.9" y2="1598.6" stroke-width="2.1" /><line x1="860.0" y1="1249.0" x2="1230.9" y2="1249.0" stroke-width="1.9" /><line x1="860.0" y1="1217.5" x2="1230.9" y2="1217.5" stroke-width="1.9" /><line x1="860.0" y1="1199.0" x2="1230.9" y2="1199.0" stroke-width="1.9" /><line x1="860.0" y1="1185.9" x2="1230.9" y2="1185.9" stroke-width="1.9" /><line x1="860.0" y1="1354.3" x2="1230.9" y2="1354.3" stroke-width="1.9" /><line x1="860.0" y1="1322.6" x2="1230.9" y2="1322.6" stroke-width="1.9" /><line x1="860.0" y1="1304.0" x2="1158.5" y2="1304.0" stroke-width="1.9" /><line x1="860.0" y1="1290.8" x2="1158.5" y2="1290.8" stroke-width="1.9" /><line x1="860.0" y1="1460.7" x2="1230.9" y2="1460.7" stroke-width="1.9" /><line x1="860.0" y1="1428.6" x2="1230.9" y2="1428.6" stroke-width="1.9" /><line x1="860.0" y1="1409.8" x2="1230.9" y2="1409.8" stroke-width="1.9" /><line x1="860.0" y1="1396.4" x2="1230.9" y2="1396.4" stroke-width="1.9" /><line x1="860.0" y1="1566.8" x2="1230.9" y2="1566.8" stroke-width="1.9" /><line x1="860.0" y1="1534.9" x2="1158.5" y2="1534.9" stroke-width="1.9" /><line x1="860.0" y1="1516.3" x2="1230.9" y2="1516.3" stroke-width="1.9" /><line x1="860.0" y1="1503.1" x2="1230.9" y2="1503.1" stroke-width="1.9" /><line x1="860.0" y1="1671.6" x2="1230.9" y2="1671.6" stroke-width="1.9" /><line x1="860.0" y1="1640.1" x2="1230.9" y2="1640.1" stroke-width="1.9" /><line x1="860.0" y1="1621.8" x2="1230.9" y2="1621.8" stroke-width="1.9" /><line x1="860.0" y1="1608.7" x2="1230.9" y2="1608.7" stroke-width="1.9" /><line x1="895.1" y1="1175.8" x2="895.1" y2="1703.0" stroke-width="2.6" /><line x1="933.1" y1="1175.8" x2="933.1" y2="1703.0" stroke-width="2.6" /><line x1="970.3" y1="1175.8" x2="970.3" y2="1703.0" stroke-width="2.6" /><line x1="1007.2" y1="1175.8" x2="1007.2" y2="1703.0" stroke-width="2.6" /><line x1="1044.5" y1="1175.8" x2="1044.5" y2="1703.0" stroke-width="2.6" /><line x1="1081.0" y1="1175.8" x2="1081.0" y2="1703.0" stroke-width="2.6" /><line x1="1118.3" y1="1175.8" x2="1118.3" y2="1703.0" stroke-width="2.6" /><line x1="1155.2" y1="1175.8" x2="1155.2" y2="1671.6" stroke-width="2.6" /><line x1="1192.6" y1="1175.8" x2="1192.6" y2="1219.0" stroke-width="2.6" /><line x1="1192.6" y1="1246.0" x2="1192.6" y2="1282.6" stroke-width="2.6" /><line x1="1192.6" y1="1308.0" x2="1192.6" y2="1355.8" stroke-width="2.6" /><line x1="1192.6" y1="1379.5" x2="1192.6" y2="1430.1" stroke-width="2.6" /><line x1="1192.6" y1="1458.0" x2="1192.6" y2="1517.8" stroke-width="2.6" /><line x1="1192.6" y1="1553.0" x2="1192.6" y2="1671.6" stroke-width="2.6" /><line x1="860.0" y1="1174.0" x2="860.0" y2="1704.9" stroke-width="5.0" /><line x1="1230.9" y1="1174.0" x2="1230.9" y2="1704.9" stroke-width="4.8" /><line x1="857.5" y1="1175.8" x2="1233.3" y2="1175.8" stroke-width="3.6" /><line x1="857.5" y1="1703.0" x2="1233.3" y2="1703.0" stroke-width="3.8" /></g><path d="M866.1,1289.5 C868.5,1288.0 875.8,1283.3 880.7,1280.8 C885.6,1278.3 890.3,1276.2 895.8,1274.5 C901.2,1272.7 906.4,1271.6 913.5,1270.3 C920.6,1269.0 928.5,1267.8 938.2,1266.6 C947.9,1265.3 959.9,1264.0 971.7,1262.9 C983.4,1261.7 996.5,1260.7 1008.8,1259.6 C1021.2,1258.5 1033.6,1257.3 1045.9,1256.1 C1058.2,1254.9 1070.3,1253.5 1082.5,1252.4 C1094.8,1251.2 1106.9,1250.2 1119.2,1249.3 C1131.4,1248.3 1143.8,1247.6 1156.1,1246.8 C1168.4,1246.0 1180.7,1245.2 1192.9,1244.5 C1205.1,1243.8 1223.2,1242.7 1229.3,1242.3" fill="none" stroke-width="4.3" stroke-linecap="round" stroke-linejoin="round" stroke-linecap="butt"/><path d="M866.5,1355.8 C868.8,1354.6 875.1,1351.2 880.1,1348.8 C885.1,1346.4 890.6,1343.8 896.4,1341.6 C902.1,1339.4 908.4,1337.3 914.5,1335.7 C920.6,1334.0 926.8,1332.8 933.0,1331.7 C939.2,1330.5 944.6,1329.7 951.6,1328.8 C958.6,1327.9 965.7,1327.1 975.0,1326.1 C984.3,1325.1 995.9,1324.1 1007.5,1322.9 C1019.1,1321.8 1032.3,1320.4 1044.7,1319.2 C1057.1,1318.0 1069.7,1316.8 1082.1,1315.6 C1094.5,1314.5 1106.8,1313.3 1119.2,1312.2 C1131.5,1311.1 1143.8,1309.9 1156.1,1308.9 C1168.4,1307.9 1180.7,1307.0 1192.9,1306.0 C1205.1,1305.1 1223.2,1303.9 1229.3,1303.5" fill="none" stroke-width="4.3" stroke-linecap="round" stroke-linejoin="round" stroke-linecap="butt"/><path d="M865.7,1431.3 C868.1,1429.7 874.8,1424.7 879.9,1421.7 C885.0,1418.6 890.6,1415.5 896.4,1413.0 C902.1,1410.5 908.4,1408.4 914.5,1406.5 C920.6,1404.6 926.8,1403.2 933.0,1401.9 C939.2,1400.5 944.6,1399.4 951.6,1398.2 C958.6,1397.1 965.7,1396.2 975.0,1395.2 C984.3,1394.1 995.9,1393.1 1007.5,1392.1 C1019.0,1391.0 1032.1,1389.9 1044.3,1388.9 C1056.6,1387.9 1068.9,1387.0 1081.2,1386.1 C1093.5,1385.1 1105.9,1384.2 1118.3,1383.2 C1130.6,1382.3 1143.1,1381.3 1155.4,1380.4 C1167.7,1379.5 1180.0,1378.6 1192.0,1377.8 C1204.1,1377.0 1221.7,1376.0 1227.6,1375.6" fill="none" stroke-width="4.3" stroke-linecap="round" stroke-linejoin="round" stroke-linecap="butt"/><path d="M865.2,1544.6 C866.5,1542.4 870.1,1535.8 873.1,1531.7 C876.1,1527.6 879.2,1523.6 883.1,1520.1 C887.1,1516.6 891.6,1513.5 896.8,1510.8 C901.9,1508.0 908.2,1505.7 914.2,1503.6 C920.3,1501.5 926.8,1499.7 933.0,1498.1 C939.2,1496.4 944.6,1495.1 951.6,1493.6 C958.6,1492.1 965.7,1490.6 975.0,1488.8 C984.3,1487.0 995.9,1484.9 1007.5,1482.9 C1019.0,1480.9 1032.1,1478.8 1044.3,1476.8 C1056.6,1474.8 1068.9,1472.7 1081.2,1470.8 C1093.5,1468.9 1105.9,1467.0 1118.3,1465.4 C1130.6,1463.7 1143.1,1462.4 1155.4,1461.0 C1167.7,1459.6 1180.0,1458.3 1192.0,1456.8 C1204.1,1455.3 1221.7,1452.8 1227.6,1452.0" fill="none" stroke-width="4.3" stroke-linecap="round" stroke-linejoin="round" stroke-linecap="butt"/><path d="M863.4,1620.7 C865.8,1618.8 872.9,1613.1 878.0,1609.5 C883.2,1605.9 888.7,1602.4 894.5,1599.2 C900.2,1596.0 905.7,1593.2 912.7,1590.5 C919.7,1587.7 926.9,1585.2 936.3,1582.6 C945.6,1580.1 957.2,1577.4 968.8,1575.2 C980.4,1573.0 993.6,1571.2 1006.0,1569.5 C1018.4,1567.9 1030.8,1566.6 1043.1,1565.1 C1055.4,1563.7 1067.6,1562.1 1079.8,1560.8 C1092.1,1559.4 1104.5,1558.1 1116.8,1557.0 C1129.2,1556.0 1141.8,1555.1 1154.2,1554.3 C1166.6,1553.5 1179.0,1552.9 1191.0,1552.4 C1203.1,1551.8 1220.8,1551.3 1226.7,1551.1" fill="none" stroke-width="4.3" stroke-linecap="round" stroke-linejoin="round" stroke-linecap="butt"/><g transform="rotate(-3.6 1163 1241.3)"><text x="1163.0" y="1241.3" font-family="'Liberation Sans', sans-serif" font-size="18" font-weight="bold" text-anchor="start" textLength="53" lengthAdjust="spacingAndGlyphs" style="stroke:#1a181a;stroke-width:0.1px">125°C</text></g><g transform="rotate(-3.6 1162 1303.8)"><text x="1162.0" y="1303.8" font-family="'Liberation Sans', sans-serif" font-size="18" font-weight="bold" text-anchor="start" textLength="53" lengthAdjust="spacingAndGlyphs" style="stroke:#1a181a;stroke-width:0.1px">100°C</text></g><g transform="rotate(-3.6 1170 1375.3)"><text x="1170.0" y="1375.3" font-family="'Liberation Sans', sans-serif" font-size="18" font-weight="bold" text-anchor="start" textLength="43.5" lengthAdjust="spacingAndGlyphs" style="stroke:#1a181a;stroke-width:0.1px">75°C</text></g><g transform="rotate(-3.6 1172 1454)"><text x="1172.0" y="1454.0" font-family="'Liberation Sans', sans-serif" font-size="18" font-weight="bold" text-anchor="start" textLength="43" lengthAdjust="spacingAndGlyphs" style="stroke:#1a181a;stroke-width:0.1px">50°C</text></g><g transform="rotate(-3.6 1170 1549.2)"><text x="1170.0" y="1549.2" font-family="'Liberation Sans', sans-serif" font-size="18" font-weight="bold" text-anchor="start" textLength="43.3" lengthAdjust="spacingAndGlyphs" style="stroke:#1a181a;stroke-width:0.1px">25°C</text></g><text transform="scale(1.12,1)" x="721.16 730.62" y="1181.8" font-family="'DejaVu Sans', 'Liberation Sans', sans-serif" font-size="17.39" font-weight="normal" text-anchor="middle" style="stroke:#1a181a;stroke-width:0.6px">10</text><text transform="scale(1.12,1)" x="741.43" y="1174.5" font-family="'DejaVu Sans', 'Liberation Sans', sans-serif" font-size="17.39" font-weight="normal" text-anchor="middle" style="stroke:#1a181a;stroke-width:0.6px">2</text><text transform="scale(1.12,1)" x="721.16 730.62" y="1286.6" font-family="'DejaVu Sans', 'Liberation Sans', sans-serif" font-size="17.39" font-weight="normal" text-anchor="middle" style="stroke:#1a181a;stroke-width:0.6px">10</text><text transform="scale(1.12,1)" x="730.09" y="1392.5" font-family="'DejaVu Sans', 'Liberation Sans', sans-serif" font-size="17.39" font-weight="normal" text-anchor="middle" style="stroke:#1a181a;stroke-width:0.6px">1</text><text transform="scale(1.12,1)" x="721.16 730.62" y="1498.4" font-family="'DejaVu Sans', 'Liberation Sans', sans-serif" font-size="17.39" font-weight="normal" text-anchor="middle" style="stroke:#1a181a;stroke-width:0.6px">10</text><text transform="scale(1.12,1)" x="740.48 749.00" y="1491.1" font-family="'DejaVu Sans', 'Liberation Sans', sans-serif" font-size="17.39" font-weight="normal" text-anchor="middle" style="stroke:#1a181a;stroke-width:0.6px">-1</text><text transform="scale(1.12,1)" x="721.16 730.62" y="1603.4" font-family="'DejaVu Sans', 'Liberation Sans', sans-serif" font-size="17.39" font-weight="normal" text-anchor="middle" style="stroke:#1a181a;stroke-width:0.6px">10</text><text transform="scale(1.12,1)" x="740.48 749.00" y="1596.1" font-family="'DejaVu Sans', 'Liberation Sans', sans-serif" font-size="17.39" font-weight="normal" text-anchor="middle" style="stroke:#1a181a;stroke-width:0.6px">-2</text><text transform="scale(1.12,1)" x="721.16 730.62" y="1708.6" font-family="'DejaVu Sans', 'Liberation Sans', sans-serif" font-size="17.39" font-weight="normal" text-anchor="middle" style="stroke:#1a181a;stroke-width:0.6px">10</text><text transform="scale(1.12,1)" x="740.48 749.00" y="1701.3" font-family="'DejaVu Sans', 'Liberation Sans', sans-serif" font-size="17.39" font-weight="normal" text-anchor="middle" style="stroke:#1a181a;stroke-width:0.6px">-3</text><text transform="scale(1.12,1)" x="764.64" y="1727.6" font-family="'DejaVu Sans', 'Liberation Sans', sans-serif" font-size="17.75" font-weight="normal" text-anchor="middle" style="stroke:#1a181a;stroke-width:0.6px">0</text><text transform="scale(1.12,1)" x="826.12 835.67" y="1727.6" font-family="'DejaVu Sans', 'Liberation Sans', sans-serif" font-size="17.75" font-weight="normal" text-anchor="middle" style="stroke:#1a181a;stroke-width:0.6px">20</text><text transform="scale(1.12,1)" x="892.19 901.74" y="1727.6" font-family="'DejaVu Sans', 'Liberation Sans', sans-serif" font-size="17.75" font-weight="normal" text-anchor="middle" style="stroke:#1a181a;stroke-width:0.6px">40</text><text transform="scale(1.12,1)" x="958.44 967.99" y="1727.6" font-family="'DejaVu Sans', 'Liberation Sans', sans-serif" font-size="17.75" font-weight="normal" text-anchor="middle" style="stroke:#1a181a;stroke-width:0.6px">60</text><text transform="scale(1.12,1)" x="1025.13 1034.69" y="1727.6" font-family="'DejaVu Sans', 'Liberation Sans', sans-serif" font-size="17.75" font-weight="normal" text-anchor="middle" style="stroke:#1a181a;stroke-width:0.6px">80</text><text transform="scale(1.12,1)" x="1087.05 1096.61 1106.16" y="1727.6" font-family="'DejaVu Sans', 'Liberation Sans', sans-serif" font-size="17.75" font-weight="normal" text-anchor="middle" style="stroke:#1a181a;stroke-width:0.6px">100</text><text transform="scale(1.06,1)" x="819.29" y="1163.6" font-family="'Liberation Mono', monospace" font-size="19.40" font-weight="normal" text-anchor="middle" style="stroke:#1a181a;stroke-width:0.25px">I</text><text x="874.5" y="1170.1" font-family="'Liberation Sans', sans-serif" font-size="17.5" font-weight="normal" text-anchor="start" textLength="10" lengthAdjust="spacingAndGlyphs" style="stroke:#1a181a;stroke-width:0.4px">R</text><text x="902.6" y="1163.8" font-family="'Liberation Sans', sans-serif" font-size="17.5" font-weight="normal" text-anchor="start" textLength="33.4" lengthAdjust="spacingAndGlyphs" style="stroke:#1a181a;stroke-width:0.4px">(µA)</text><text x="1148.7" y="1693.2" font-family="'Liberation Sans', sans-serif" font-size="17.5" font-weight="normal" text-anchor="start" textLength="10.3" lengthAdjust="spacingAndGlyphs" style="stroke:#1a181a;stroke-width:0.4px">V</text><text x="1161.5" y="1700.7" font-family="'Liberation Sans', sans-serif" font-size="17.5" font-weight="normal" text-anchor="start" textLength="11" lengthAdjust="spacingAndGlyphs" style="stroke:#1a181a;stroke-width:0.4px">R</text><text x="1189.8" y="1693.8" font-family="'Liberation Sans', sans-serif" font-size="17.5" font-weight="normal" text-anchor="start" textLength="22.9" lengthAdjust="spacingAndGlyphs" style="stroke:#1a181a;stroke-width:0.4px">(V)</text>
</svg>
</div>
</body></html>
